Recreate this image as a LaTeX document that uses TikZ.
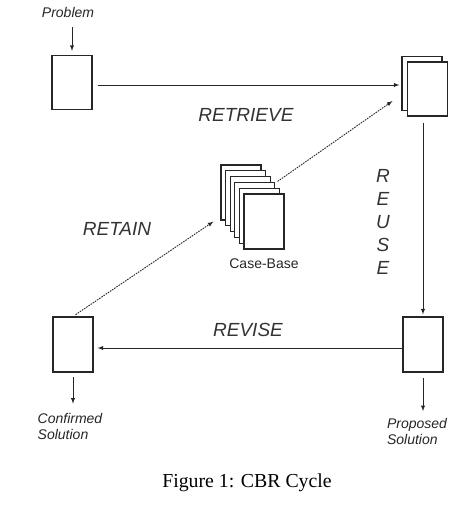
\documentclass[tikz,border=0pt]{standalone}
\usepackage{fontspec}
\setmainfont{Liberation Serif}
\newfontfamily\arial{Liberation Sans}
\usepackage{tikz}
\usetikzlibrary{arrows,calc,positioning}
\tikzstyle{caso}=[rectangle,draw=black!85,line width=1.2pt,minimum width=40,minimum height=54,fill=white,inner sep=0]
\tikzstyle{hoja}=[caso,minimum height=55]
\tikzstyle{fase}=[font=\arial\itshape\fontsize{19}{23}\selectfont,text=black!80,inner sep=0]
\tikzstyle{etiq}=[font=\arial\itshape\fontsize{14}{16}\selectfont,text=black!85,align=left,inner sep=0]
\tikzstyle{flecha}=[->,line width=0.9pt,draw=black!85]
\tikzstyle{punteada}=[flecha,dash pattern=on 1.6pt off 1pt]

\begin{document}
\begin{tikzpicture}[x=1pt,y=-1pt]
	\useasboundingbox (0,0) rectangle (474,506);
	\begin{scope}[>=latex]
		\node[caso]	(prob)	at (72,82.5)	{};
		\node[etiq]	(ptxt)	at (68,12)	{Problem};
		\node[caso]	(rback)	at (422,83.5)	{};
		\node[caso]	(rcase)	at (427.5,89)	{};
		\node[hoja]	(prop)	at (423,344.5)	{};
		\node[hoja]	(conf)	at (73,344.5)	{};
		\coordinate	(cbpos)	at (264,221.5);
		\foreach \i in {5,...,1}
			\node[hoja]	(cb\i)	at ($(cbpos)+(-4.6*\i,-5.8*\i)$)	{};
		\node[hoja]	(cb)	at (cbpos)	{};
		\node[etiq,font=\arial\fontsize{14}{16}\selectfont]
				(cbtxt)	[below=9pt of cb]	{Case-Base};
		\node[fase]	(retrieve)	at (246,115)	{RETRIEVE};
		\node[fase]	(retain)	at (117,229)	{RETAIN};
		\node[fase]	(revise)	at (248,330)	{REVISE};
		\node[fase,align=center]	(reuse)	at (383,222)	{R\\E\\U\\S\\E};
		\node[etiq]	(ctxt)	at (70,426)	{Confirmed\\Solution};
		\node[etiq]	(stxt)	at (417,431.5)	{Proposed\\Solution};
		\draw[flecha,shorten <=10pt,shorten >=4pt]	(prob.north |- ptxt.south) -- (prob.north);
		\draw[flecha,shorten <=5pt,shorten >=2pt]	([yshift=-2.5pt]prob.east) -- ([yshift=-2.5pt]prob.east -| rback.west);
		\draw[punteada]	([shift={(-7,-12)}]cb.north east) -- ([shift={(-9,-10)}]rback.south west);
		\draw[flecha,shorten <=6pt,shorten >=2pt]	(prop.north |- rcase.south) -- (prop.north);
		\draw[flecha,shorten >=4pt]	([yshift=-3.5pt]prop.west) -- ([yshift=-3.5pt]prop.west -| conf.east);
		\draw[punteada,shorten <=3pt]	(conf.north) -- ([shift={(-7,1)}]cb5.south west);
		\draw[flecha,shorten <=4pt,shorten >=9pt]	(conf.south) -- (conf.south |- ctxt.north);
		\draw[flecha,shorten <=5pt,shorten >=7pt]	(prop.south) -- (prop.south |- stxt.north);
	\end{scope}
	\node[font=\fontsize{19.8}{22}\selectfont]	(cap)	at (247,483)	{Figure 1: CBR Cycle};
\end{tikzpicture}
\end{document}
